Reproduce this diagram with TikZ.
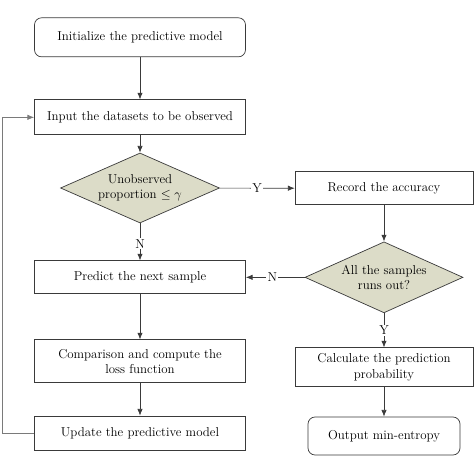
\documentclass[tikz,border=0pt]{standalone}
\usepackage{amsmath,amssymb}
\usepackage{xcolor}
\usepackage{tikz}
\usetikzlibrary{arrows.meta,positioning,shapes.geometric,calc}
\definecolor{edge}{HTML}{3A3A3A}
\definecolor{loopgray}{HTML}{7A7A7A}
\definecolor{khaki}{HTML}{DCDCC8}

\begin{document}
\begin{tikzpicture}[
  font=\fontsize{11}{13}\selectfont,
  box/.style={draw=edge, line width=0.6pt, align=center, inner sep=2pt},
  stepbox/.style={box, minimum width=6.33cm},
  endbox/.style={box, rounded corners=6pt},
  choice/.style={draw=edge, line width=0.6pt, fill=khaki, shape=diamond, aspect=2.25,
    align=center, inner sep=0pt},
  arr/.style={-{Latex[length=2mm, width=1.6mm]}, line width=0.6pt, draw=edge},
  lbl/.style={fill=white, inner sep=1pt},
]
\useasboundingbox (0,0) rectangle (14.22,14.22);
\node[endbox, minimum width=6.33cm, minimum height=1.17cm] (init) at (4.2, 13.1) {Initialize the predictive model};
\node[stepbox, minimum height=1.05cm] (input) at (4.2, 10.7) {Input the datasets to be observed};
\node[choice, minimum width=4.77cm, minimum height=2.1cm] (unobs) at (4.2, 8.58) {Unobserved\\proportion $\leq \gamma$};
\node[box, minimum width=5.34cm, minimum height=0.99cm] (record) at (11.52, 8.57) {Record the accuracy};
\node[stepbox, minimum height=0.99cm] (predict) at (4.2, 5.9) {Predict the next sample};
\node[choice, minimum width=4.74cm, minimum height=2.13cm] (runout) at (11.52, 5.9) {All the samples\\runs out?};
\node[stepbox, minimum height=1.29cm] (compare) at (4.2, 3.38) {Comparison and compute the\\loss function};
\node[box, minimum width=5.34cm, minimum height=1.17cm] (calc) at (11.52, 3.2) {Calculate the prediction\\probability};
\node[stepbox, minimum height=1.02cm] (update) at (4.2, 1.23) {Update the predictive model};
\node[endbox, minimum width=4.56cm, minimum height=1.14cm] (output) at (11.52, 1.14) {Output min-entropy};
\coordinate (backbot) at (0.06, 1.23);
\coordinate (backtop) at (0.06, 10.7);
\draw[arr] (init) -- (input);
\draw[arr] (input) -- (unobs);
\draw[arr] (unobs) -- node[lbl, pos=0.5]{Y} (record);
\draw[arr] (unobs) -- node[lbl, pos=0.55]{N} (predict);
\draw[arr] (record) -- (runout);
\draw[arr] (runout) -- node[lbl, pos=0.55]{N} (predict);
\draw[arr] (runout) -- node[lbl, pos=0.5]{Y} (calc);
\draw[arr] (predict) -- (compare);
\draw[arr] (compare) -- (update);
\draw[arr] (calc) -- (output);
\draw[arr, draw=loopgray] (update) -- (backbot) -- (backtop) -- (input);
\end{tikzpicture}
\end{document}
